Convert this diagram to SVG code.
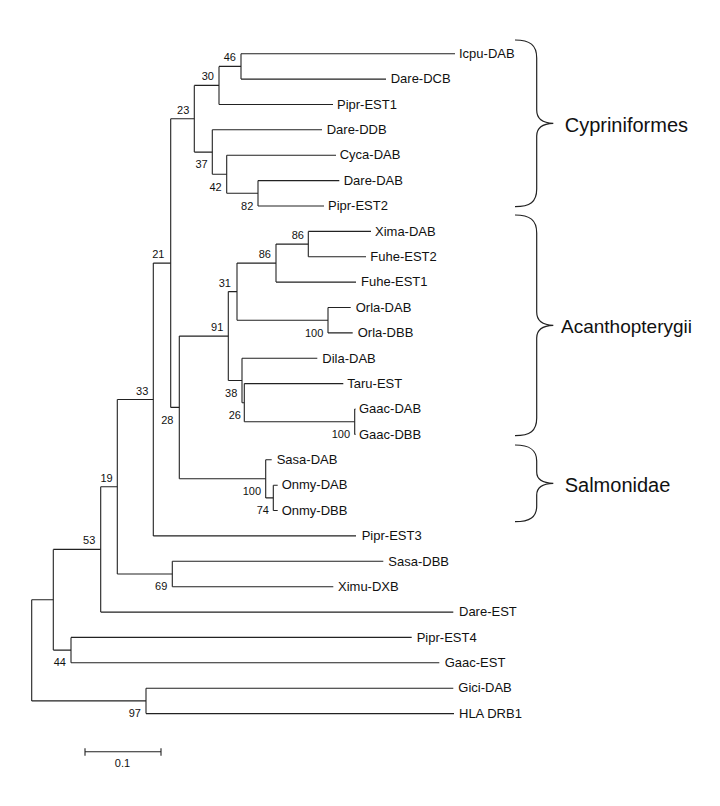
<svg xmlns="http://www.w3.org/2000/svg" width="720" height="806" viewBox="0 0 720 806">
<style>
.br{stroke:#222;stroke-width:1.1;fill:none}
.lf{font-family:"Liberation Sans",Arial,sans-serif;font-size:13px;fill:#111}
.bs{font-family:"Liberation Sans",Arial,sans-serif;font-size:11px;fill:#111;text-anchor:end}
.cl{font-family:"Liberation Sans",Arial,sans-serif;font-size:20px;fill:#111}
.bc{stroke:#222;stroke-width:1.2;fill:none}
</style>
<rect width="720" height="806" fill="#fff"/>
<g id="connectors" class="br">
<path d="M241,53.7H455M241,79.1H386M219,104.5H333M212.3,129.8H322M226.7,155.2H336M258,180.6H339.3M258,206H324M308.3,231.4H371M308.3,256.7H366M276,282.1H356M328,307.5H350.7M328,332.9H352.7M242,358.3H317.3M244.3,383.6H343.3M354.7,409H355.5M354.7,434.4H355.5M265.7,459.8H271.7M273.3,485.2H277.7M273.3,510.5H277.7M153.3,535.9H356M172.3,561.3H383.3M172.3,586.7H333.3M100.7,612.1H453.3M71,637.4H411.7M71,662.8H439.3M146,688.2H453.3M146,713.6H454"/>
<path d="M219,66.4H241M194.3,85.4H219M226.7,193.3H258M212.3,174.3H226.7M194.3,152.1H212.3M170.7,118.7H194.3M276,244.1H308.3M237,263.1H276M237,320.2H328M228.3,291.6H237M244.3,421.7H354.7M242,402.7H244.3M228.3,380.5H242M179.3,336.1H228.3M265.7,497.9H273.3M179.3,478.8H265.7M170.7,407.4H179.3M153.3,263.1H170.7M117.3,399.5H153.3M117.3,574H172.3M100.7,486.7H117.3M53.3,549.4H100.7M53.3,650.1H71M31.7,599.8H53.3M31.7,700.9H146"/>
</g>
<g id="n46"><path class="br" d="M241,53.7V79.1"/><text class="bs" x="236" y="61.4">46</text></g>
<g id="n30"><path class="br" d="M219,66.4V104.5"/><text class="bs" x="214" y="80.4">30</text></g>
<g id="n23"><path class="br" d="M194.3,85.4V152.1"/><text class="bs" x="189.3" y="113.7">23</text></g>
<g id="n37"><path class="br" d="M212.3,129.8V174.3"/><text class="bs" x="207.7" y="168.4">37</text></g>
<g id="n42"><path class="br" d="M226.7,155.2V193.3"/><text class="bs" x="221.7" y="190.6">42</text></g>
<g id="n82"><path class="br" d="M258,180.6V206"/><text class="bs" x="253.3" y="209.6">82</text></g>
<g id="n86a"><path class="br" d="M308.3,231.4V256.7"/><text class="bs" x="304" y="239">86</text></g>
<g id="n86b"><path class="br" d="M276,244.1V282.1"/><text class="bs" x="271" y="258.1">86</text></g>
<g id="n100o"><path class="br" d="M328,307.5V332.9"/><text class="bs" x="323.3" y="336.5">100</text></g>
<g id="n31"><path class="br" d="M237,263.1V320.2"/><text class="bs" x="231" y="286.6">31</text></g>
<g id="n100g"><path class="br" d="M354.7,409V434.4"/><text class="bs" x="350" y="438">100</text></g>
<g id="n26"><path class="br" d="M244.3,383.6V421.7"/><text class="bs" x="241" y="419">26</text></g>
<g id="n38"><path class="br" d="M242,358.3V402.7"/><text class="bs" x="237.3" y="396.8">38</text></g>
<g id="n91"><path class="br" d="M228.3,291.6V380.5"/><text class="bs" x="223.3" y="331.1">91</text></g>
<g id="n74"><path class="br" d="M273.3,485.2V510.5"/><text class="bs" x="269" y="514.2">74</text></g>
<g id="n100s"><path class="br" d="M265.7,459.8V497.9"/><text class="bs" x="261" y="495.1">100</text></g>
<g id="n28"><path class="br" d="M179.3,336.1V478.8"/><text class="bs" x="173.5" y="423.7">28</text></g>
<g id="n21"><path class="br" d="M170.7,118.7V407.4"/><text class="bs" x="164.5" y="258.1">21</text></g>
<g id="n33"><path class="br" d="M153.3,263.1V535.9"/><text class="bs" x="148.3" y="394.5">33</text></g>
<g id="n69"><path class="br" d="M172.3,561.3V586.7"/><text class="bs" x="167.3" y="590.3">69</text></g>
<g id="n19"><path class="br" d="M117.3,399.5V574"/><text class="bs" x="112.7" y="481.7">19</text></g>
<g id="n53"><path class="br" d="M100.7,486.7V612.1"/><text class="bs" x="95.3" y="544.4">53</text></g>
<g id="n44"><path class="br" d="M71,637.4V662.8"/><text class="bs" x="66" y="666.4">44</text></g>
<g id="nA"><path class="br" d="M53.3,549.4V650.1"/></g>
<g id="n97"><path class="br" d="M146,688.2V713.6"/><text class="bs" x="141" y="717.2">97</text></g>
<g id="root"><path class="br" d="M31.7,599.8V700.9"/></g>
<g id="leaves" class="lf">
<g id="l0"><text x="459" y="57.9">Icpu-DAB</text></g>
<g id="l1"><text x="390.7" y="83.3">Dare-DCB</text></g>
<g id="l2"><text x="337" y="108.7">Pipr-EST1</text></g>
<g id="l3"><text x="326.7" y="134">Dare-DDB</text></g>
<g id="l4"><text x="339.7" y="159.4">Cyca-DAB</text></g>
<g id="l5"><text x="343.7" y="184.8">Dare-DAB</text></g>
<g id="l6"><text x="328" y="210.2">Pipr-EST2</text></g>
<g id="l7"><text x="375" y="235.6">Xima-DAB</text></g>
<g id="l8"><text x="370.3" y="260.9">Fuhe-EST2</text></g>
<g id="l9"><text x="361" y="286.3">Fuhe-EST1</text></g>
<g id="l10"><text x="355.7" y="311.7">Orla-DAB</text></g>
<g id="l11"><text x="357.7" y="337.1">Orla-DBB</text></g>
<g id="l12"><text x="322.3" y="362.5">Dila-DAB</text></g>
<g id="l13"><text x="347.3" y="387.8">Taru-EST</text></g>
<g id="l14"><text x="359" y="413.2">Gaac-DAB</text></g>
<g id="l15"><text x="359" y="438.6">Gaac-DBB</text></g>
<g id="l16"><text x="276.7" y="464">Sasa-DAB</text></g>
<g id="l17"><text x="281.7" y="489.4">Onmy-DAB</text></g>
<g id="l18"><text x="281.7" y="514.7">Onmy-DBB</text></g>
<g id="l19"><text x="361.7" y="540.1">Pipr-EST3</text></g>
<g id="l20"><text x="388.3" y="565.5">Sasa-DBB</text></g>
<g id="l21"><text x="338" y="590.9">Ximu-DXB</text></g>
<g id="l22"><text x="459" y="616.3">Dare-EST</text></g>
<g id="l23"><text x="416.7" y="641.6">Pipr-EST4</text></g>
<g id="l24"><text x="444.7" y="667">Gaac-EST</text></g>
<g id="l25"><text x="458.3" y="692.4">Gici-DAB</text></g>
<g id="l26"><text x="459" y="717.8">HLA DRB1</text></g>
</g>
<g id="cypriniformes">
<path class="bc" d="M515,40C530,40 536.7,45 536.7,58V110C536.7,118 542,123 553.3,123.3C542,123.6 536.7,128 536.7,136V189C536.7,202 530,206.7 515,206.7"/>
<text class="cl" x="564.7" y="132">Cypriniformes</text>
</g>
<g id="acanthopterygii">
<path class="bc" d="M515,215C530,215 536.7,220 536.7,233V312C536.7,320 542,325 553.3,325.3C542,325.6 536.7,330 536.7,338V418C536.7,431 530,435.7 515,435.7"/>
<text class="cl" x="561" y="333.3" style="font-size:19px">Acanthopterygii</text>
</g>
<g id="salmonidae">
<path class="bc" d="M515,445C530,445 536.7,450 536.7,461V472C536.7,479 542,483 553.3,483.3C542,483.6 536.7,488 536.7,495V506C536.7,517 530,521.7 515,521.7"/>
<text class="cl" x="564.7" y="491.5">Salmonidae</text>
</g>
<g id="scale">
<path class="br" d="M85,751.7H161M85,748.3V755.7M161,748.3V755.7"/>
<text class="bs" x="122.5" y="767.3" style="text-anchor:middle">0.1</text>
</g>
</svg>
